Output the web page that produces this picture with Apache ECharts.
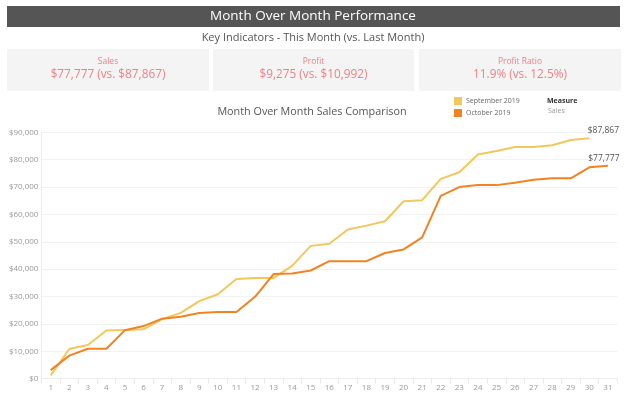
<!DOCTYPE html>
<html>
<head>
<meta charset="utf-8">
<script src="https://cdn.jsdelivr.net/npm/echarts@6/dist/echarts.min.js"></script>
<style>
  html, body { margin: 0; padding: 0; background: #fff; }
  #main { width: 624px; height: 397px; }
</style>
</head>
<body>
<div id="main"></div>
<script>
// days of the month
var days = ['1','2','3','4','5','6','7','8','9','10','11','12','13','14','15','16',
            '17','18','19','20','21','22','23','24','25','26','27','28','29','30','31'];
// cumulative sales, September 2019 (30 days)
var septSales = [1200, 10800, 12300, 17600, 17800, 18000, 21700, 24000, 28300, 30800,
                 36400, 36800, 36800, 41200, 48500, 49300, 54500, 55900, 57500, 64800,
                 65200, 73000, 75400, 81900, 83200, 84600, 84600, 85300, 87200, 87867];
// cumulative sales, October 2019 (31 days)
var octSales = [3100, 8400, 10900, 10900, 17700, 19200, 21900, 22600, 24000, 24300,
                24300, 29900, 38200, 38400, 39500, 42900, 42900, 42900, 45900, 47200,
                51600, 66800, 70000, 70700, 70700, 71600, 72700, 73200, 73200, 77200, 77777];
var seriesNames = ['September 2019', 'October 2019'];
var kpiNames = ['Sales', 'Profit', 'Profit Ratio'];
var kpiValues = ['$77,777 (vs. $87,867)', '$9,275 (vs. $10,992)', '11.9% (vs. 12.5%)'];

var FONT = '"Open Sans", sans-serif';
var kpiColor = '#ee8086';

function money(v) {
    return '$' + v.toString().replace(/\B(?=(\d{3})+(?!\d))/g, ',');
}

// only the last point of each line gets a label
function withEndLabel(arr) {
    return arr.map(function (v, i) {
        if (i !== arr.length - 1) return v;
        return {
            value: v,
            label: {
                show: true, position: 'top', distance: 3,
                offset: [i === 29 ? 14 : -4, 0],
                formatter: function (p) { return money(p.value); },
                color: '#555', fontSize: 8.5, fontFamily: FONT
            }
        };
    });
}

var graphics = [
    { type: 'rect', shape: { x: 7, y: 6, width: 613, height: 21 }, style: { fill: '#555555' } },
    { type: 'text', x: 313, y: 16.5, style: { text: 'Month Over Month Performance', fill: '#fff',
        font: '13.5px ' + FONT, align: 'center', verticalAlign: 'middle' } },
    { type: 'text', x: 313, y: 38, style: { text: 'Key Indicators - This Month (vs. Last Month)', fill: '#555',
        font: '11px ' + FONT, align: 'center', verticalAlign: 'middle' } },
    { type: 'text', x: 547, y: 101, style: { text: 'Measure', fill: '#333',
        font: 'bold 7px ' + FONT, align: 'left', verticalAlign: 'middle' } },
    { type: 'text', x: 548, y: 110.5, style: { text: 'Sales', fill: '#999',
        font: '7px ' + FONT, align: 'left', verticalAlign: 'middle' } }
];
var boxes = [[7, 202], [213, 201], [419, 202]];
for (var i = 0; i < boxes.length; i++) {
    var bx = boxes[i][0], bw = boxes[i][1], cx = bx + bw / 2;
    graphics.push({ type: 'rect', shape: { x: bx, y: 49, width: bw, height: 42 }, style: { fill: '#f4f4f4' } });
    graphics.push({ type: 'text', x: cx, y: 62, style: { text: kpiNames[i], fill: kpiColor,
        font: '8.5px ' + FONT, align: 'center', verticalAlign: 'middle' } });
    graphics.push({ type: 'text', x: cx, y: 75, style: { text: kpiValues[i], fill: kpiColor,
        font: '11.8px ' + FONT, align: 'center', verticalAlign: 'middle' } });
}

var myChart = echarts.init(document.getElementById('main'));
var option = {
    animation: false,
    textStyle: { fontFamily: FONT },
    title: {
        text: 'Month Over Month Sales Comparison',
        left: 'center', top: 101,
        textStyle: { fontSize: 10.8, fontWeight: 'normal', color: '#555', fontFamily: FONT }
    },
    legend: {
        data: seriesNames,
        orient: 'vertical', left: 449, top: 92,
        icon: 'rect', itemWidth: 8, itemHeight: 8, itemGap: 4,
        textStyle: { fontSize: 7, color: '#666', fontFamily: FONT, padding: [0, 0, 0, -1] }
    },
    graphic: graphics,
    grid: { left: 41.4, right: 6.8, top: 132.3, bottom: 18.4 },
    xAxis: {
        type: 'category', data: days, boundaryGap: true,
        axisLine: { lineStyle: { color: '#eeeeee' } },
        axisTick: { show: true, length: 5, lineStyle: { color: '#e8e8e8' } },
        axisLabel: { color: '#999', fontSize: 8, margin: 5 }
    },
    yAxis: {
        type: 'value', min: 0, max: 90000, interval: 10000,
        axisLine: { show: true, lineStyle: { color: '#eeeeee' } },
        axisTick: { show: false },
        splitLine: { lineStyle: { color: '#f2f2f2' } },
        axisLabel: { color: '#999', fontSize: 8, margin: 3, formatter: money }
    },
    series: [
        {
            name: seriesNames[0], type: 'line', data: withEndLabel(septSales),
            symbol: 'circle', symbolSize: 0, showSymbol: true,
            lineStyle: { width: 2, color: '#f2c75c' },
            itemStyle: { color: '#f2c75c' }
        },
        {
            name: seriesNames[1], type: 'line', data: withEndLabel(octSales),
            symbol: 'circle', symbolSize: 0, showSymbol: true,
            lineStyle: { width: 2, color: '#f28322' },
            itemStyle: { color: '#f28322' }
        }
    ]
};
myChart.setOption(option);
</script>
</body>
</html>
